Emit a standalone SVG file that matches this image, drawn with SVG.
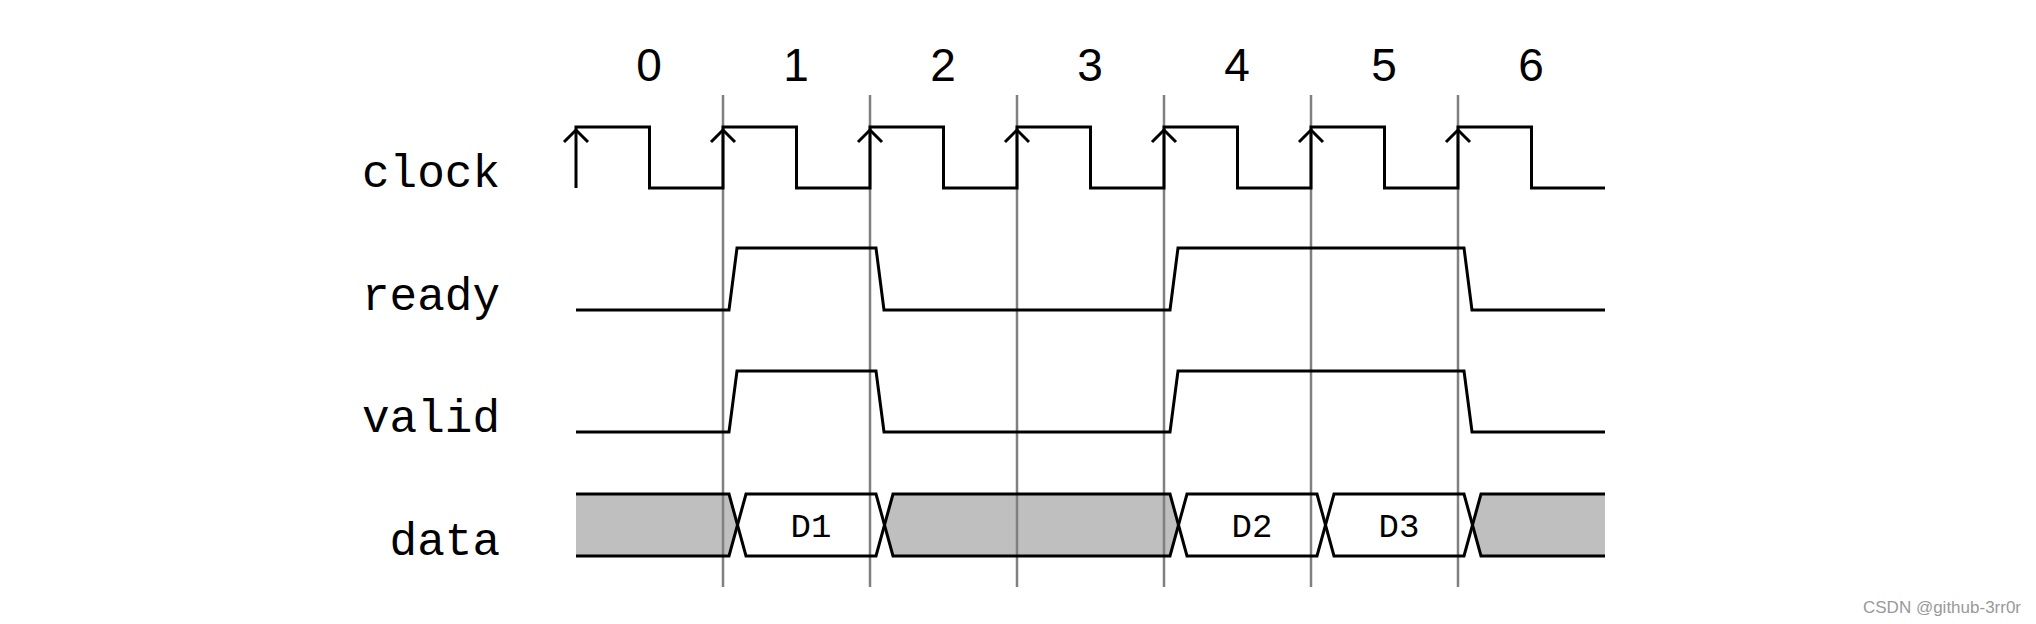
<svg xmlns="http://www.w3.org/2000/svg" width="2036" height="624" viewBox="0 0 2036 624">
<style>
.sig{fill:none;stroke:#000;stroke-width:3;stroke-linejoin:miter}
.grid{stroke:#808080;stroke-width:2.5}
.lbl{font-family:"Liberation Mono","DejaVu Sans Mono",monospace;font-size:46px;fill:#000;text-anchor:end}
.num{font-family:"Liberation Sans","DejaVu Sans",sans-serif;font-size:46px;fill:#000;text-anchor:middle}
.dat{font-family:"Liberation Mono","DejaVu Sans Mono",monospace;font-size:34px;fill:#000;text-anchor:middle}
.gray{fill:#bfbfbf}
.wm{font-family:"Liberation Sans",sans-serif;font-size:17px;fill:#999}
</style>
<g id="numbers">
<text class="num" x="649" y="81">0</text>
<text class="num" x="796" y="81">1</text>
<text class="num" x="943" y="81">2</text>
<text class="num" x="1090" y="81">3</text>
<text class="num" x="1237" y="81">4</text>
<text class="num" x="1384" y="81">5</text>
<text class="num" x="1531" y="81">6</text>
</g>
<g id="labels">
<text class="lbl" x="500" y="187">clock</text>
<text class="lbl" x="500" y="310">ready</text>
<text class="lbl" x="500" y="432">valid</text>
<text class="lbl" x="500" y="555">data</text>
</g>
<g id="data-fill">
<path class="gray" d="M576 494 H729 L737.5 525 L729 556 H576 Z"/>
<path class="gray" d="M893 494 H1170 L1178.5 525 L1170 556 H893 L884.5 525 Z"/>
<path class="gray" d="M1481 494 H1605 V556 H1481 L1472.5 525 Z"/>
</g>
<g id="grid">
<line class="grid" x1="723" y1="95" x2="723" y2="587"/>
<line class="grid" x1="870" y1="95" x2="870" y2="587"/>
<line class="grid" x1="1017" y1="95" x2="1017" y2="587"/>
<line class="grid" x1="1164" y1="95" x2="1164" y2="587"/>
<line class="grid" x1="1311" y1="95" x2="1311" y2="587"/>
<line class="grid" x1="1458" y1="95" x2="1458" y2="587"/>
</g>
<g id="clock">
<path class="sig" d="M576 188 V127 H649.5 V188 H723 V127 H796.5 V188 H870 V127 H943.5 V188 H1017 V127 H1090.5 V188 H1164 V127 H1237.5 V188 H1311 V127 H1384.5 V188 H1458 V127 H1531.5 V188 H1605"/>
<path class="sig" stroke-width="2.5" d="M564 142 L576 130 L588 142 M711 142 L723 130 L735 142 M858 142 L870 130 L882 142 M1005 142 L1017 130 L1029 142 M1152 142 L1164 130 L1176 142 M1299 142 L1311 130 L1323 142 M1446 142 L1458 130 L1470 142"/>
</g>
<g id="ready">
<path class="sig" d="M576 310 H729 L737 248 H876 L884 310 H1170 L1178 248 H1464 L1472 310 H1605"/>
</g>
<g id="valid">
<path class="sig" d="M576 432 H729 L737 371 H876 L884 432 H1170 L1178 371 H1464 L1472 432 H1605"/>
</g>
<g id="data">
<path class="sig" d="M576 494 H729 L746 556 H876 L893 494 H1170 L1187 556 H1317 L1334 494 H1464 L1481 556 H1605"/>
<path class="sig" d="M576 556 H729 L746 494 H876 L893 556 H1170 L1187 494 H1317 L1334 556 H1464 L1481 494 H1605"/>
<text class="dat" x="811" y="537">D1</text>
<text class="dat" x="1252" y="537">D2</text>
<text class="dat" x="1399" y="537">D3</text>
</g>
<text class="wm" x="1863" y="613">CSDN @github-3rr0r</text>
</svg>
